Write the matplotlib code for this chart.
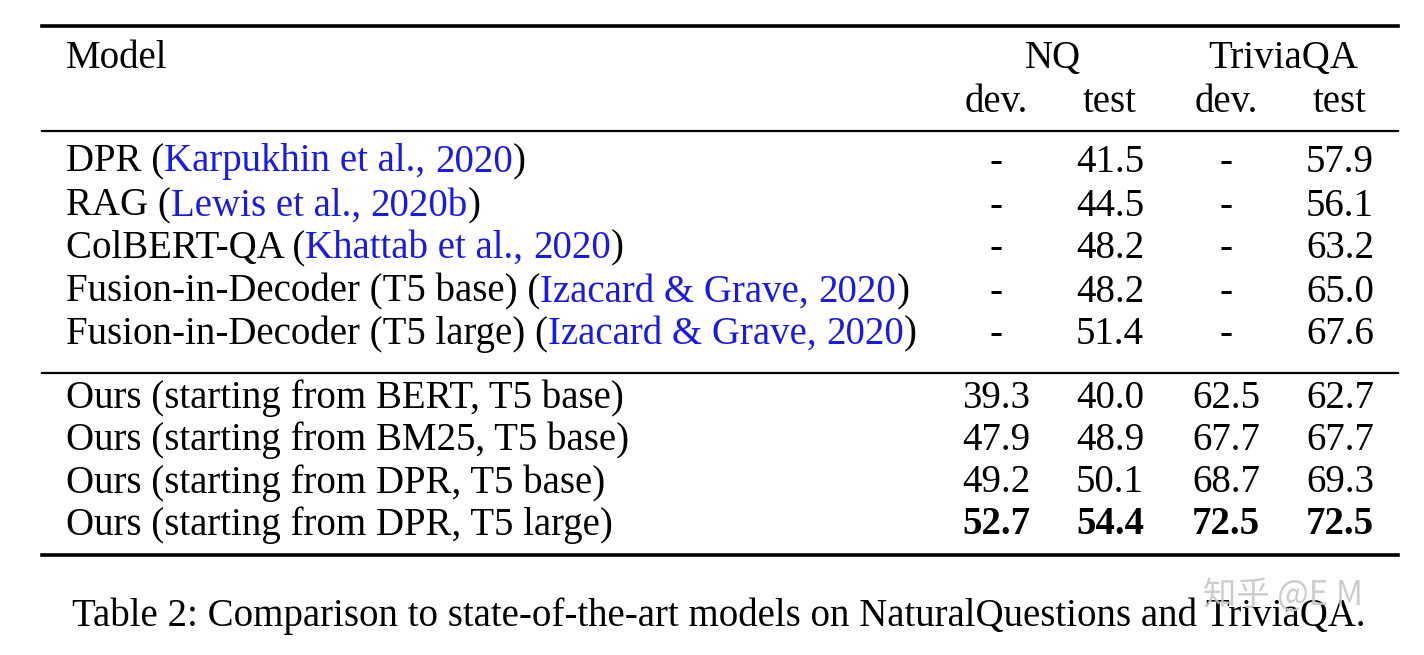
import matplotlib.pyplot as plt

plt.rc('font', family='Liberation Serif', size=28)

# table rows: (plain model text, citation text, trailing text)
model_names = ["DPR (", "RAG (", "ColBERT-QA (", "Fusion-in-Decoder (T5 base) (",
               "Fusion-in-Decoder (T5 large) (",
               "Ours (starting from BERT, T5 base)", "Ours (starting from BM25, T5 base)",
               "Ours (starting from DPR, T5 base)", "Ours (starting from DPR, T5 large)"]
citations = [("Karpukhin et al., ", "2020"), ("Lewis et al., ", "2020b"),
             ("Khattab et al., ", "2020"), ("Izacard & Grave, ", "2020"),
             ("Izacard & Grave, ", "2020"), None, None, None, None]
nq_dev = ["-", "-", "-", "-", "-", "39.3", "47.9", "49.2", "52.7"]
nq_test = ["41.5", "44.5", "48.2", "48.2", "51.4", "40.0", "48.9", "50.1", "54.4"]
tqa_dev = ["-", "-", "-", "-", "-", "62.5", "67.7", "68.7", "72.5"]
tqa_test = ["57.9", "56.1", "63.2", "65.0", "67.6", "62.7", "67.7", "69.3", "72.5"]
caption = "Table 2: Comparison to state-of-the-art models on NaturalQuestions and TriviaQA."

W, H = 1424, 655
fig = plt.figure(figsize=(W / 100, H / 100), dpi=100)
ax = fig.add_axes([0, 0, 1, 1])
ax.set_xlim(0, W)
ax.set_ylim(H, 0)
ax.axis('off')
renderer = fig.canvas.get_renderer()
blue = '#1a1ae6'

def seq_text(x, y, parts):
    for s, c in parts:
        t = ax.text(x, y, s, color=c, va='center', ha='left')
        bb = t.get_window_extent(renderer)
        x += bb.width

# rules
ax.plot([42, 1398], [26, 26], color='black', lw=2.6)
ax.plot([42, 1398], [131, 131], color='black', lw=1.6)
ax.plot([42, 1398], [373, 373], color='black', lw=1.6)
ax.plot([42, 1398], [555, 555], color='black', lw=2.6)

ax.text(66, 59, "Model", va='center')
ax.text(1053, 59, "NQ", va='center', ha='center')
ax.text(1283, 59, "TriviaQA", va='center', ha='center')
cols = [996, 1110, 1226, 1340]
for cx, lab in zip(cols, ["dev.", "test", "dev.", "test"]):
    ax.text(cx, 102, lab, va='center', ha='center')

row_y = [162, 206, 248, 292, 334, 398, 440, 483, 525]
for i, y in enumerate(row_y):
    if citations[i]:
        seq_text(66, y, [(model_names[i], 'black'), (citations[i][0], blue),
                         (citations[i][1], blue), (")", 'black')])
    else:
        ax.text(66, y, model_names[i], va='center')
    bold = i == len(row_y) - 1
    for cx, vals in zip(cols, [nq_dev, nq_test, tqa_dev, tqa_test]):
        ax.text(cx, y, vals[i], va='center', ha='center',
                fontweight='bold' if bold else 'normal')

ax.text(72, 616, caption, va='center', ha='left')
ax.text(1283, 596, "知乎 @E M", va='center', ha='center', color='#c8c8c8',
        fontsize=24, family=['Noto Sans CJK SC', 'Noto Sans CJK JP', 'DejaVu Sans'],
        alpha=0.9)

plt.savefig("out.png")
